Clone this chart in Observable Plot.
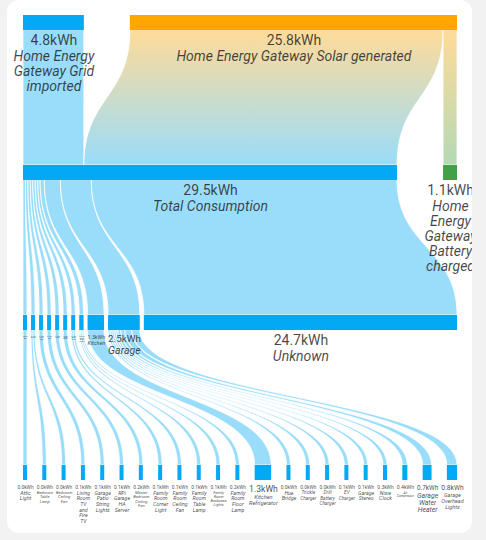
<!DOCTYPE html>
<html><head><meta charset="utf-8">
<script src="https://cdn.jsdelivr.net/npm/d3@7"></script>
<script src="https://cdn.jsdelivr.net/npm/@observablehq/plot@0.6"></script>
<style>
html,body{margin:0;padding:0;background:#f2f2f2;width:486px;height:540px;overflow:hidden;font-family:Roboto,sans-serif;}
#card{position:absolute;left:7px;top:0;width:465px;height:533px;background:#fff;border-radius:12px;overflow:hidden;}
#card svg{position:absolute;left:-7px;top:0;width:486px !important;height:540px !important;max-width:none !important;}
</style></head><body><div id="card"></div>
<script>
// ---------- DATA ----------
const gridName = "Home Energy Gateway Grid imported";
const gridKWh = 4.8;
const solarName = "Home Energy Gateway Solar generated";
const solarKWh = 25.8;
const homeName = "Total Consumption";
const homeKWh = 29.5;
const batteryName = "Home Energy Gateway Battery charged";
const batteryKWh = 1.1;
const gridToHomeKWh = 4.8;
const solarToHomeKWh = 24.7;
const solarToBatteryKWh = 1.1;

const areaNames = ["Attic","Bedroom","Living Room","Patio","Network","Master Bedroom","Family Room","Family Room Lamps","Kitchen","Garage","Unknown"];
const areaKWh   = [0.02, 0.07, 0.06, 0.1, 0.1, 0.2, 0.15, 0.34, 1.3, 2.5, 24.7];

const deviceNames = [
  "Attic Light","Bedroom Table Lamp","Bedroom Ceiling Fan","Living Room TV and Fire TV",
  "Garage Patio String Lights","RPi Garage HA Server","Master Bedroom Ceiling Fan",
  "Family Room Corner Light","Family Room Ceiling Fan","Family Room Table Lamp",
  "Family Room Bookcase Lights","Family Room Floor Lamp","Kitchen Refrigerator",
  "Hue Bridge","Trickle Charger","Drill Battery Charger","EV Charger","Garage Stereo",
  "Nixie Clock","Air Compressor","Garage Water Heater","Garage Overhead Lights"];
const deviceKWh = [0.02,0.03,0.04,0.06,0.1,0.1,0.2,0.1,0.05,0.08,0.06,0.2,1.3,
  0.03,0.03,0.04,0.1,0.1,0.3,0.4,0.7,0.8];
const deviceArea = ["Attic","Bedroom","Bedroom","Living Room","Patio","Network","Master Bedroom",
  "Family Room","Family Room","Family Room Lamps","Family Room Lamps","Family Room Lamps","Kitchen",
  "Garage","Garage","Garage","Garage","Garage","Garage","Garage","Garage","Garage"];

// ---------- STYLE / LAYOUT ----------
const BLUE = "#03a9f4", ORANGE = "#ffa600", GREEN = "#43a047";
const X0 = 23, X1 = 457, INNER = X1 - X0;
const TOP_GAP = 46, MIN_NODE = 4, MIN_LINK = 2.5, NODE_H = 0.1, PX_PER_LAYER = 150;
const k = (INNER - TOP_GAP) / (gridKWh + solarKWh);

const nodes = [];
const byId = new Map();
function addNode(id, name, value, layer, color) {
  const n = {id, name, value, layer, color};
  nodes.push(n); byId.set(id, n); return n;
}
addNode("grid", gridName, gridKWh, 0, BLUE);
addNode("solar", solarName, solarKWh, 0, ORANGE);
addNode("home", homeName, homeKWh, 1, BLUE);
addNode("battery", batteryName, batteryKWh, 1, GREEN);
areaNames.forEach((a, i) => addNode("a:" + a, a, areaKWh[i], 2, BLUE));
deviceNames.forEach((d, i) => addNode("d:" + d, d, deviceKWh[i], 3, BLUE));

const links = [
  {source: "grid", target: "home", value: gridToHomeKWh, fill: BLUE, op: 0.4},
  {source: "solar", target: "home", value: solarToHomeKWh, fill: "url(#g-solar-home)", op: 1},
  {source: "solar", target: "battery", value: solarToBatteryKWh, fill: "url(#g-solar-bat)", op: 1},
  ...areaNames.map((a, i) => ({source: "home", target: "a:" + a, value: areaKWh[i], fill: BLUE, op: 0.4})),
  ...deviceNames.map((d, i) => ({source: "a:" + deviceArea[i], target: "d:" + d, value: deviceKWh[i], fill: BLUE, op: 0.4}))
];
links.forEach(l => { l.source = byId.get(l.source); l.target = byId.get(l.target); });

// layer layout
d3.groups(nodes, d => d.layer).forEach(([layer, ns]) => {
  const w = ns.map(n => Math.max(MIN_NODE, n.value * k));
  const gap = ns.length > 1 ? (INNER - d3.sum(w)) / (ns.length - 1) : 0;
  let x = 0;
  ns.forEach((n, i) => { n.px0 = x; n.px1 = x + w[i]; n.gap = gap; x += w[i] + gap; });
});
function distribute(node, ls, end) {
  if (!ls.length) return;
  const w = ls.map(l => Math.max(MIN_LINK, l.value * k));
  const sc = (node.px1 - node.px0) / d3.sum(w);
  let x = node.px0;
  ls.forEach((l, i) => { l[end + "0"] = x; x += w[i] * sc; l[end + "1"] = x; });
}
nodes.forEach(n => {
  distribute(n, links.filter(l => l.source === n).sort((a, b) => a.target.px0 - b.target.px0), "s");
  distribute(n, links.filter(l => l.target === n).sort((a, b) => a.source.px0 - b.source.px0), "t");
});
const N = 48;
links.forEach(l => {
  const ya = l.source.layer + NODE_H, yb = l.target.layer;
  l.samples = d3.range(N + 1).map(i => {
    const t = i / N, s = 3 * t * t - 2 * t * t * t, yf = 1.5 * t - 1.5 * t * t + t * t * t;
    return {y: ya + (yb - ya) * yf, x1: (l.s0 + (l.t0 - l.s0) * s) / k, x2: (l.s1 + (l.t1 - l.s1) * s) / k};
  });
});

// labels
const ctx = document.createElement("canvas").getContext("2d");
function tw(s, fs, italic) { ctx.font = (italic ? "italic " : "") + fs + "px Roboto"; return ctx.measureText(s).width; }
const MAX_FS = 14;
nodes.forEach(n => {
  const avail = (n.px1 - n.px0) + n.gap - 3;
  const wrapW = avail - 3;
  n.valueText = n.value.toFixed(1) + "kWh";
  n.valueFs = Math.min(MAX_FS, MAX_FS * avail / tw(n.valueText, MAX_FS, false));
  const words = n.name.split(" ");
  const longest = d3.max(words, w => tw(w, MAX_FS, true));
  n.nameFs = Math.min(n.valueFs * 1.08, MAX_FS, MAX_FS * avail / longest);
  const lines = [];
  let cur = "";
  words.forEach(w => {
    const trial = cur ? cur + " " + w : w;
    if (cur && tw(trial, n.nameFs, true) > wrapW) { lines.push(cur); cur = w; } else cur = trial;
  });
  if (cur) lines.push(cur);
  n.nameText = lines.join("\n");
  n.cx = (n.px0 + n.px1) / 2 / k;
  n.valueY = n.layer + NODE_H + 5 / PX_PER_LAYER;
  n.nameY = n.valueY + n.valueFs * 1.07 / PX_PER_LAYER;
});

const plot = Plot.plot({
  width: 486, height: 540, margin: 0,
  x: {domain: [0, INNER / k], range: [X0, X1], axis: null},
  y: {domain: [0, 3], range: [15, 15 + 3 * PX_PER_LAYER], axis: null},
  style: {background: "transparent", fontFamily: "Roboto, sans-serif", overflow: "visible"},
  marks: [
    ...links.map(l => Plot.areaX(l.samples, {x1: "x1", x2: "x2", y: "y", fill: l.fill, fillOpacity: l.op,
      stroke: "white", strokeWidth: 0.8, curve: "linear"})),
    Plot.rect(nodes, {x1: d => d.px0 / k, x2: d => d.px1 / k, y1: d => d.layer, y2: d => d.layer + NODE_H, fill: d => d.color}),
    Plot.text(nodes, {x: "cx", y: "valueY", text: "valueText", fontSize: d => d.valueFs, lineAnchor: "top",
      fill: "#1c1c1c", fillOpacity: 0.82}),
    Plot.text(nodes, {x: "cx", y: "nameY", text: "nameText", fontSize: d => d.nameFs, fontStyle: "italic",
      lineAnchor: "top", lineHeight: 1.07, fill: "#1c1c1c", fillOpacity: 0.82})
  ]
});
const defs = d3.select(plot).insert("defs", ":first-child");
function grad(id, c0, c1) {
  const g = defs.append("linearGradient").attr("id", id).attr("x1", 0).attr("y1", 0).attr("x2", 0).attr("y2", 1);
  g.append("stop").attr("offset", "0%").attr("stop-color", c0).attr("stop-opacity", 0.4);
  g.append("stop").attr("offset", "100%").attr("stop-color", c1).attr("stop-opacity", 0.4);
}
grad("g-solar-home", ORANGE, BLUE);
grad("g-solar-bat", ORANGE, GREEN);
document.getElementById("card").appendChild(plot);
</script></body></html>
